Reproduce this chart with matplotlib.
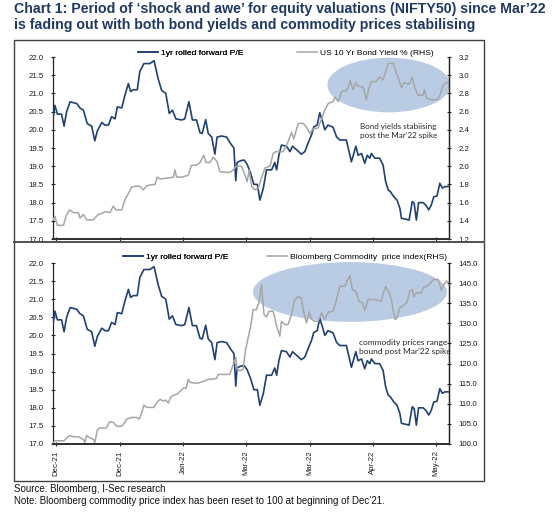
import matplotlib
matplotlib.use("Agg")
import matplotlib.pyplot as plt
from matplotlib.patches import Ellipse, Rectangle
from matplotlib.lines import Line2D
import numpy as np

plt.rcParams['font.family'] = ['Liberation Sans', 'DejaVu Sans']

# ---------------- data ----------------
pe_t = [0, 0.6, 1.4, 2.7, 3.5, 4.3, 5.4, 7.5, 8.5, 9.6, 10.8, 12.2, 13.2, 14.0, 15.4, 16.4,
        17.5, 18.5, 19.6, 20.3, 21.7, 22.7, 23.8, 24.5, 25.3, 26.6, 27.4, 28.7, 30.6, 31.9,
        33.2, 34.3, 35.6, 36.7, 37.7, 38.8, 40.6, 41.6, 42.9, 44.0, 45.3, 46.4, 47.1, 48.2,
        49.0, 50.1, 51.1, 51.8, 53.2, 54.8, 56.0, 57.1, 57.7, 58.1, 59.2, 60.3, 61.3, 62.4,
        63.4, 64.5, 65.3, 66.4, 67.4, 69.0, 70.0, 70.6, 71.3, 72.1, 73.7, 74.8, 75.6, 76.9,
        78.4, 79.5, 80.5, 81.6, 82.3, 83.4, 84.2, 85.1, 85.8, 86.8, 88.4, 89.5, 90.5, 92.6,
        94.2, 95.6, 96.3, 97.4, 98.4, 99.2, 100.0, 100.5, 101.6, 103.1, 104.2, 105.0, 105.8,
        106.5, 107.6, 108.6, 109.5, 110.0, 111.6, 112.4, 113.4, 114.0, 114.7, 115.4, 116.8,
        117.7, 118.6, 119.4, 120.2, 121.2, 122.1, 122.9, 123.7, 124.7]
pe_v = [20.3, 20.67, 20.43, 20.43, 20.1, 20.5, 20.77, 20.72, 20.6, 20.54, 20.17, 20.1, 19.7,
        19.97, 20.2, 20.13, 20.13, 20.36, 20.3, 20.63, 20.6, 20.95, 21.27, 21.05, 21.1, 21.1,
        21.6, 21.82, 21.82, 21.9, 21.4, 21.08, 21.0, 20.45, 20.54, 20.3, 20.27, 20.3, 20.77,
        20.27, 20.27, 19.92, 19.9, 20.28, 19.9, 19.8, 19.33, 19.8, 19.83, 19.8, 19.63, 19.5,
        18.6, 19.1, 19.15, 19.17, 19.05, 18.8, 18.5, 18.5, 18.07, 18.4, 18.9, 18.9, 19.1, 18.9,
        19.3, 19.58, 19.55, 19.4, 19.55, 19.45, 19.33, 19.4, 19.63, 19.86, 20.08, 20.13, 20.47,
        20.22, 20.0, 20.13, 20.07, 19.81, 19.72, 19.72, 19.12, 19.55, 19.3, 19.35, 19.08, 19.3,
        19.22, 19.35, 19.22, 19.22, 19.03, 18.58, 18.35, 18.3, 18.16, 18.07, 17.84, 17.57,
        17.54, 17.52, 18.03, 17.98, 17.52, 18.0, 18.0, 17.93, 17.8, 17.93, 18.16, 18.18, 18.53,
        18.4, 18.44, 18.44]

by_t = [0, 0.6, 1.4, 3.3, 4.1, 5.2, 6.4, 8.0, 8.5, 9.6, 10.6, 12.7, 14.3, 15.4, 16.4, 18.0,
        19.0, 19.9, 21.7, 22.7, 23.8, 24.8, 25.9, 27.4, 28.5, 29.5, 30.1, 32.2, 32.9, 33.8,
        36.4, 38.0, 38.5, 39.0, 40.6, 42.7, 43.7, 45.3, 46.4, 47.6, 48.3, 49.5, 50.6, 51.8,
        52.7, 55.8, 56.9, 57.9, 59.5, 60.6, 61.3, 61.9, 62.7, 63.7, 64.8, 65.8, 66.9, 68.5,
        69.5, 70.3, 72.7, 74.2, 75.3, 76.0, 77.4, 79.0, 80.0, 81.1, 82.1, 83.7, 84.2, 84.8,
        85.8, 86.9, 88.4, 89.0, 90.0, 91.1, 92.6, 93.2, 93.9, 94.7, 95.6, 96.3, 97.9, 98.9,
        99.8, 100.5, 101.9, 103.1, 104.2, 105.8, 107.4, 108.4, 108.9, 110.0, 110.7, 112.1,
        112.6, 113.4, 114.2, 115.2, 116.8, 117.3, 117.9, 119.4, 121.5, 122.1, 123.1, 124.2,
        125.0]
by_v = [1.41, 1.45, 1.35, 1.35, 1.45, 1.52, 1.49, 1.49, 1.43, 1.47, 1.41, 1.41, 1.47, 1.48,
        1.50, 1.49, 1.56, 1.52, 1.52, 1.63, 1.70, 1.77, 1.78, 1.78, 1.74, 1.78, 1.79, 1.80,
        1.88, 1.86, 1.87, 1.88, 1.96, 1.88, 1.88, 1.90, 2.01, 2.01, 2.04, 2.12, 2.04, 2.04,
        2.10, 2.05, 1.94, 1.93, 1.96, 2.0, 2.0, 1.90, 1.83, 1.96, 1.78, 1.74, 1.76, 1.87, 1.98,
        2.0, 2.14, 2.16, 2.16, 2.27, 2.37, 2.30, 2.47, 2.47, 2.43, 2.36, 2.41, 2.42, 2.47, 2.52,
        2.62, 2.69, 2.71, 2.76, 2.71, 2.82, 2.83, 2.87, 2.94, 2.84, 2.92, 2.88, 2.87, 2.73,
        2.87, 2.93, 2.93, 2.98, 2.95, 3.13, 3.13, 3.02, 2.98, 2.86, 2.92, 2.90, 2.91, 2.98,
        2.86, 2.78, 2.78, 2.84, 2.75, 2.73, 2.73, 2.78, 2.89, 2.92, 2.92]

cm_t = [0, 0.6, 3.5, 4.3, 5.2, 6.4, 8.0, 9.6, 10.1, 10.6, 11.7, 12.7, 13.2, 14.0, 14.8, 16.9,
        17.8, 19.0, 20.1, 21.7, 22.7, 23.2, 24.8, 26.4, 27.2, 28.0, 28.7, 29.5, 31.9, 32.7,
        33.8, 34.8, 35.6, 36.4, 37.1, 38.2, 39.2, 40.3, 41.3, 42.0, 42.7, 43.4, 45.3, 46.9,
        47.9, 49.0, 50.1, 51.6, 52.2, 53.7, 55.8, 56.9, 57.7, 58.1, 59.0, 60.0, 60.8, 61.6,
        62.4, 63.2, 64.2, 65.1, 65.8, 66.6, 67.4, 68.2, 69.5, 70.6, 71.6, 72.1, 73.2, 74.2,
        75.3, 76.3, 77.4, 78.4, 79.2, 80.0, 80.9, 81.6, 82.6, 83.7, 84.8, 85.8, 86.9, 88.4,
        89.5, 90.5, 92.1, 92.8, 93.7, 94.5, 95.6, 96.6, 97.7, 98.4, 99.5, 102.1, 103.7, 104.2,
        105.0, 106.1, 106.8, 107.9, 108.4, 109.5, 110.3, 111.0, 111.8, 112.6, 113.4, 113.9,
        114.7, 116.3, 117.0, 118.1, 119.1, 120.0, 121.6, 122.6, 123.3, 124.2, 125.0]
cm_v = [100.2, 100.8, 100.8, 101.5, 102.1, 101.8, 101.8, 101.1, 100.4, 102.1, 101.5, 101.2,
        100.4, 103.5, 104.0, 104.0, 105.5, 105.4, 104.4, 104.4, 105.4, 106.2, 106.6, 106.6,
        106.2, 107.8, 109.7, 109.1, 109.1, 110.3, 111.1, 110.7, 110.9, 110.2, 111.6, 112.2,
        112.4, 113.2, 114.0, 113.8, 116.1, 115.3, 115.1, 115.4, 115.7, 116.1, 116.1, 116.3,
        117.3, 117.3, 117.3, 119.8, 121.5, 118.6, 118.2, 118.6, 123.5, 126.4, 129.3, 133.4,
        133.4, 135.5, 139.6, 132.2, 131.6, 133.0, 133.0, 129.3, 126.8, 130.5, 129.7, 129.7,
        132.2, 135.9, 136.6, 136.3, 132.6, 130.1, 132.8, 131.0, 130.5, 130.5, 132.6, 131.0,
        132.8, 133.0, 135.9, 139.2, 139.2, 140.5, 141.9, 138.4, 138.0, 135.5, 135.1, 133.3,
        135.9, 135.9, 135.5, 137.4, 139.2, 137.6, 135.9, 131.0, 131.1, 133.9, 134.3, 134.7,
        135.3, 138.0, 138.4, 136.6, 137.6, 137.6, 139.0, 139.2, 140.0, 140.9, 140.9, 138.2,
        139.6, 140.5, 140.2]

xtick_pos = [1, 21, 41, 61, 81, 101, 121]
xtick_labels = ['Dec-21', 'Dec-21', 'Jan-22', 'Mar-22', 'Mar-22', 'Apr-22', 'May-22']
pe_ticks = np.arange(17.0, 22.01, 0.5)
by_ticks = np.arange(1.2, 3.21, 0.2)
cm_ticks = np.arange(100.0, 145.1, 5.0)

title = ("Chart 1: Period of \u2018shock and awe\u2019 for equity valuations (NIFTY50) since Mar\u201922\n"
         "is fading out with both bond yields and commodity prices stabilising")
lbl_pe = "1yr rolled forward P/E"
lbl_by = "US 10 Yr Bond Yield % (RHS)"
lbl_cm = "Bloomberg Commodity  price index(RHS)"
note_top = "Bond yields stabiising\npost the Mar\u201922 spike"
note_bot = "commodity prices range\nbound post Mar\u201922 spike"
source = "Source: Bloomberg, I-Sec research"
note = "Note: Bloomberg commodity price index has been reset to 100 at beginning of Dec\u201921."

# ---------------- style ----------------
BLUE = '#1F4172'
GRAY = '#A6A6A6'
ELL = '#B9CCE4'
TXT = '#1a1a1a'
W, H = 555, 530
FS = 5.6
LFS = 6.1

fig = plt.figure(figsize=(W / 100, H / 100), dpi=100)

def fx(px):
    return px / W

def fy(py):
    return 1 - py / H

# outer frame
fig.patches.append(Rectangle((fx(14), fy(481)), fx(484) - fx(14), fy(40) - fy(481),
                             transform=fig.transFigure, fill=False, edgecolor='#404040', lw=1.0))
fig.lines.append(Line2D([fx(14), fx(484)], [fy(242), fy(242)], transform=fig.transFigure,
                        color='#505050', lw=1.4))

fig.text(fx(14), fy(1.5), title, ha='left', va='top', fontsize=10.2, fontweight='bold',
         color='#1F3864', linespacing=1.26)

def style_axes(ax, ax2, yt_left, yt_right, fmt_r, show_x):
    ax.set_xlim(0, 125)
    ax.set_ylim(17.0, 22.0)
    ax.set_yticks(yt_left)
    ax.set_yticklabels([f"{v:.1f}" for v in yt_left])
    ax2.set_yticks(yt_right)
    ax2.set_yticklabels([fmt_r.format(v) for v in yt_right])
    ax.set_xticks(xtick_pos)
    if show_x:
        ax.set_xticklabels(xtick_labels, rotation=90)
    else:
        ax.set_xticklabels([])
    for a in (ax, ax2):
        a.spines['top'].set_visible(False)
        a.spines['left'].set_color('#222222')
        a.spines['right'].set_color('#222222')
        a.spines['bottom'].set_color('#333333')
        a.spines['left'].set_linewidth(0.9)
        a.spines['right'].set_linewidth(0.9)
        a.spines['bottom'].set_linewidth(1.4)
        a.tick_params(axis='both', direction='inout', length=3.2, width=0.8,
                      labelsize=FS, colors='#222222', labelcolor=TXT, pad=5.2)
    ax.tick_params(axis='x', pad=3)
    ax2.spines['left'].set_visible(False)

# ---------------- top panel ----------------
ax1 = fig.add_axes([fx(53), fy(239), fx(449) - fx(53), fy(57) - fy(239)])
ax1r = ax1.twinx()
ax1.add_patch(Ellipse((0.848, 0.846), 0.31, 0.30, transform=ax1.transAxes,
                      facecolor=ELL, edgecolor='none', zorder=0, clip_on=False))
l_pe1, = ax1.plot(pe_t, pe_v, color=BLUE, lw=1.2, zorder=3)
l_by, = ax1r.plot(by_t, by_v, color=GRAY, lw=1.1, zorder=2)
ax1r.set_ylim(1.2, 3.2)
style_axes(ax1, ax1r, pe_ticks, by_ticks, "{:.1f}", False)
leg = ax1.legend([l_pe1], [lbl_pe], loc='center left', bbox_to_anchor=(0.215, 1.022),
                 frameon=False, borderpad=0, borderaxespad=0, handlelength=2.4,
                 handletextpad=0.3, fontsize=LFS)
ax1.add_artist(leg)
ax1r.legend([l_by], [lbl_by], loc='center left', bbox_to_anchor=(0.616, 1.022),
            frameon=False, borderpad=0, borderaxespad=0, handlelength=2.4,
            handletextpad=0.3, fontsize=LFS)
fig.text(fx(360), fy(131), note_top, ha='left', va='center', fontsize=5.8,
         family=['Lato', 'DejaVu Sans'], color='#262626', linespacing=1.35)

# ---------------- bottom panel ----------------
ax2 = fig.add_axes([fx(53), fy(444), fx(449) - fx(53), fy(263) - fy(444)])
ax2r = ax2.twinx()
ax2.add_patch(Ellipse((0.75, 0.84), 0.49, 0.33, transform=ax2.transAxes,
                      facecolor=ELL, edgecolor='none', zorder=0, clip_on=False))
l_pe2, = ax2.plot(pe_t, pe_v, color=BLUE, lw=1.2, zorder=3)
l_cm, = ax2r.plot(cm_t, cm_v, color=GRAY, lw=1.1, zorder=2)
ax2r.set_ylim(100.0, 145.0)
style_axes(ax2, ax2r, pe_ticks, cm_ticks, "{:.1f}", True)
leg2 = ax2.legend([l_pe2], [lbl_pe], loc='center left', bbox_to_anchor=(0.177, 1.033),
                  frameon=False, borderpad=0, borderaxespad=0, handlelength=2.4,
                  handletextpad=0.3, fontsize=LFS)
ax2.add_artist(leg2)
ax2r.legend([l_cm], [lbl_cm], loc='center left', bbox_to_anchor=(0.54, 1.033),
            frameon=False, borderpad=0, borderaxespad=0, handlelength=2.4,
            handletextpad=0.3, fontsize=LFS)
fig.text(fx(359), fy(347), note_bot, ha='left', va='center', fontsize=6.0,
         family=['Lato', 'DejaVu Sans'], color='#262626', linespacing=1.2)

# ---------------- footer ----------------
fig.text(fx(14), fy(489), source, ha='left', va='center', fontsize=7, color='#111111')
fig.text(fx(14), fy(501.5), note, ha='left', va='center', fontsize=7, color='#111111')

fig.savefig("out.png", dpi=100)
